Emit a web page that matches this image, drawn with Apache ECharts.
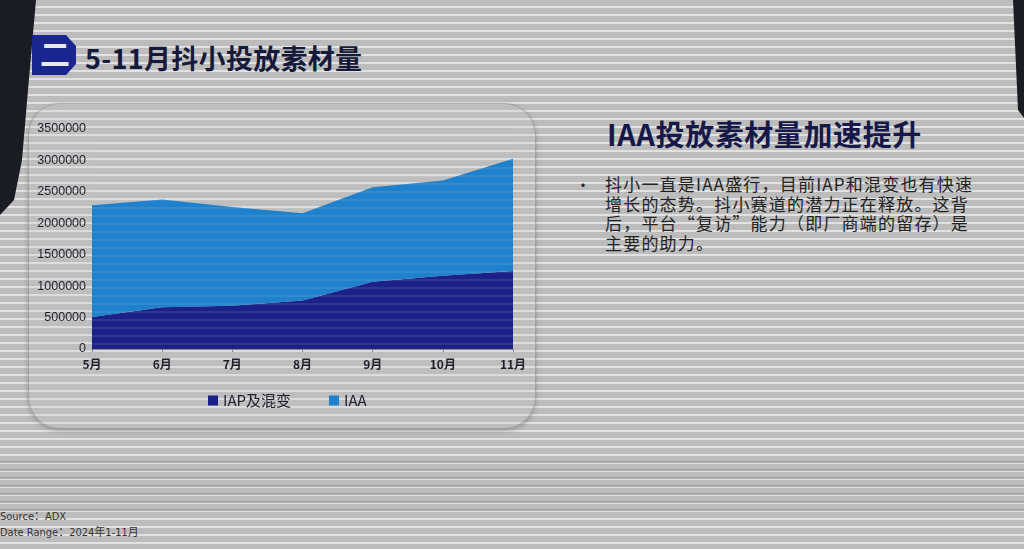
<!DOCTYPE html>
<html>
<head>
<meta charset="utf-8">
<script src="https://cdn.jsdelivr.net/npm/echarts@6/dist/echarts.min.js"></script>
<style>
html,body{margin:0;padding:0;width:1024px;height:549px;overflow:hidden;}
body{position:relative;background:#bcbcbc;font-family:"Noto Sans CJK SC","Noto Sans",sans-serif;}
.stripes{position:absolute;left:0;top:0;width:1024px;height:549px;
 background:repeating-linear-gradient(to bottom, rgba(255,255,255,0) 0px, rgba(255,255,255,0) 6px, rgba(232,232,232,0.85) 6.3px, rgba(232,232,232,0.85) 7.7px, rgba(255,255,255,0) 8px);}
.darkband{position:absolute;left:0;top:455px;width:1024px;height:56px;
 background:repeating-linear-gradient(to bottom, rgba(120,120,120,0) 0px, rgba(120,120,120,0) 5.5px, rgba(120,120,120,0.45) 6px, rgba(120,120,120,0.45) 7.5px, rgba(120,120,120,0) 8px);}
.leftdark{position:absolute;left:0;top:0;width:40px;height:220px;background:#1a1c24;clip-path:polygon(0 0,36px 0,28px 90px,22px 160px,14px 200px,0 215px);}
.rightdark{position:absolute;left:1008px;top:0;width:16px;height:130px;background:#1a1c24;clip-path:polygon(5px 0,16px 0,16px 118px,10px 110px);}
.panel{position:absolute;left:28px;top:103px;width:506px;height:324px;border-radius:32px;border:1px solid rgba(140,140,140,0.6);box-shadow:0 2px 4px rgba(90,90,90,0.4);background:rgba(200,200,200,0.2);}
.badge{position:absolute;left:32px;top:35px;width:44px;height:40px;background:#1b2592;clip-path:polygon(0 0,34px 0,44px 11px,44px 29px,34px 40px,0 40px);}
.badge span{position:absolute;left:8px;top:-3px;color:#e8e8ee;font-size:30px;font-weight:bold;line-height:40px;}
.title{position:absolute;left:85px;top:38px;font-size:27px;font-weight:bold;color:#161a3a;letter-spacing:0.3px;}
.rtitle{position:absolute;left:607px;top:112px;font-size:29px;font-weight:bold;color:#151848;letter-spacing:0.6px;}
.bullet{position:absolute;left:575px;top:172px;font-size:16px;color:#2a2a2a;}
.body{position:absolute;left:605px;top:174px;width:400px;font-size:17px;line-height:19.7px;color:#232323;letter-spacing:1.2px;white-space:nowrap;}
.src{position:absolute;left:0px;top:509px;font-family:"Liberation Sans Narrow","DejaVu Sans Condensed","Noto Sans CJK SC",sans-serif;font-size:11px;line-height:16px;color:#333;}
#chart{position:absolute;left:0;top:0;width:1024px;height:549px;}
.overlay{position:absolute;left:92px;top:129px;width:422px;height:221px;pointer-events:none;
 background:repeating-linear-gradient(to bottom, rgba(255,255,255,0) 0px, rgba(255,255,255,0) 6px, rgba(255,255,255,0.09) 6.3px, rgba(255,255,255,0.09) 7.7px, rgba(255,255,255,0) 8px);}
</style>
</head>
<body>
<div class="stripes"></div>
<div class="darkband"></div>
<div class="leftdark"></div>
<div class="rightdark"></div>
<div class="panel"></div>
<div class="badge"><span>二</span></div>
<div class="title">5-11月抖小投放素材量</div>
<div class="rtitle">IAA投放素材量加速提升</div>
<div class="bullet">•</div>
<div class="body">抖小一直是IAA盛行，目前IAP和混变也有快速<br>增长的态势。抖小赛道的潜力正在释放。这背<br>后，平台“复访”能力（即厂商端的留存）是<br>主要的助力。</div>
<div class="src">Source：ADX<br>Date Range：2024年1-11月</div>
<div id="chart"></div>
<div class="overlay"></div>
<script>
const months = ['5月','6月','7月','8月','9月','10月','11月'];
const iapHybrid = [510000, 665000, 690000, 770000, 1070000, 1165000, 1240000];
const iaa = [1775000, 1715000, 1570000, 1390000, 1505000, 1515000, 1785000];
const seriesNames = ['IAP及混变', 'IAA'];

const chart = echarts.init(document.getElementById('chart'), null, {renderer:'canvas'});
chart.setOption({
  backgroundColor: 'transparent',
  animation: false,
  grid: {left: 92, right: 511, top: 129, bottom: 200, containLabel: false},
  legend: {
    data: seriesNames,
    top: 388, left: 203,
    itemWidth: 10, itemHeight: 10, itemGap: 38,
    icon: 'rect',
    textStyle: {fontSize: 15, color: '#1e1e30', fontFamily: 'Noto Sans CJK SC'}
  },
  xAxis: {
    type: 'category',
    data: months,
    boundaryGap: false,
    axisLine: {show: true, lineStyle: {color: '#8a8a8a', width: 1}},
    axisTick: {show: true, length: 3, lineStyle: {color: '#8a8a8a'}},
    axisLabel: {fontSize: 12, fontWeight: 'bold', color: '#1e1e2a', margin: 9, fontFamily: 'Noto Sans CJK SC'}
  },
  yAxis: {
    type: 'value',
    min: 0, max: 3500000, interval: 500000,
    splitLine: {show: false},
    axisLine: {show: false},
    axisTick: {show: false},
    axisLabel: {fontSize: 12.5, color: '#1e1e2a', margin: 6, fontFamily: 'Liberation Sans',
      formatter: function (v) { return String(v); }}
  },
  series: [
    {name: seriesNames[0], type: 'line', stack: 'total', data: iapHybrid,
     symbol: 'none', lineStyle: {width: 0}, areaStyle: {color: '#1b2188', opacity: 1},
     itemStyle: {color: '#1b2188'}},
    {name: seriesNames[1], type: 'line', stack: 'total', data: iaa,
     symbol: 'none', lineStyle: {width: 0}, areaStyle: {color: '#1f80cc', opacity: 1},
     itemStyle: {color: '#1f80cc'}}
  ]
});
</script>
</body>
</html>
